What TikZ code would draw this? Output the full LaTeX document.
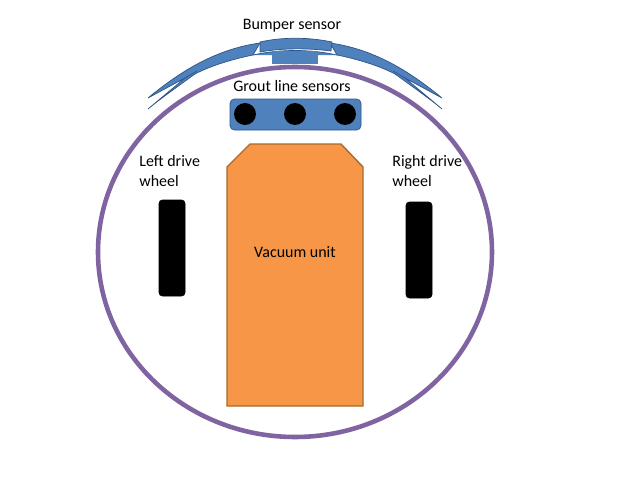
\documentclass[tikz,border=0pt]{standalone}
\usepackage{fontspec}
\setmainfont{Carlito}
\usepackage{tikz}
\usetikzlibrary{positioning}
\definecolor{bumperblue}{RGB}{79,129,189}
\definecolor{bumperedge}{RGB}{45,85,135}
\definecolor{shellpurple}{RGB}{128,100,162}
\definecolor{vacorange}{RGB}{247,150,70}
\definecolor{vacedge}{RGB}{170,105,45}
\newcommand{\bumperarm}[1]{
  \begin{scope}[shift={(295,0)},xscale=#1]
    \draw [bumper]
          (-147,98) .. controls (-113,70) and (-78,49) .. (-35,43)
          -- (-42,55) .. controls (-62,59) and (-85,66) .. (-100,74)
          .. controls (-118,87) and (-135,99) .. (-147,109)
          -- (-110,78) -- cycle;
    \draw [bumper] (-110,78) -- (-98,71);
  \end{scope}}

\begin{document}
\begin{tikzpicture}
[x=0.02cm,y=-0.02cm,
bumper/.style={draw=bumperedge,fill=bumperblue,thin},
wheel/.style={draw=black,fill=black,rounded corners=2pt},
label/.style={font=\fontsize{9.1}{11.3}\selectfont,align=left,inner sep=0pt,text=black}]
\useasboundingbox (0,0) rectangle (640,480);
\fill [white] (0,0) rectangle (640,480);

\bumperarm{1}
\bumperarm{-1}
\draw [bumper] (253,55) .. controls (280,49) and (310,49) .. (337,55);
\fill [bumperblue] (272,51) rectangle (318,64);
\draw [bumper] (260,42) .. controls (282,37) and (308,37) .. (332,42)
      -- (331,51) .. controls (308,48) and (282,48) .. (260,52) -- cycle;

\draw [shellpurple,line width=2.6pt] (295,252) ellipse (197 and 185);

% sensor bar
\draw [draw=bumperedge,fill=bumperblue,rounded corners=2.5pt] (230,99) rectangle (361,130);
\foreach \sx in {245,295,345}
  \fill [black] (\sx,114) circle (11);

% vacuum
\draw [draw=vacedge,fill=vacorange,thick]
      (227,167) -- (250,144) -- (341,144) -- (363,167) -- (363,406) -- (227,406) -- cycle;

\draw [wheel] (159,200) rectangle (185,296);
\draw [wheel] (406,202) rectangle (432,298);

\node (bumper) [label] at (292,26) {Bumper sensor};
\node (grout) [label] at (292,86) {Grout line sensors};
\node (vacuum) [label] at (295,252) {Vacuum unit};
\node (leftwheel) [label,anchor=north west] at (139,155) {Left drive\\wheel};
\node (rightwheel) [label,anchor=north west] at (392,155) {Right drive\\wheel};
\end{tikzpicture}
\end{document}
